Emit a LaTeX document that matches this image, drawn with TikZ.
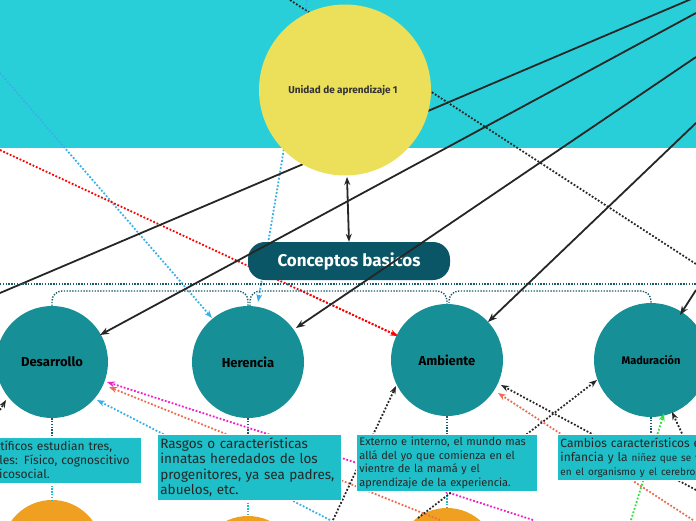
\documentclass[tikz,border=0pt]{standalone}
\usepackage{fontspec}
\setmainfont{Fira Sans}
\usetikzlibrary{arrows.meta,shapes.geometric}
\definecolor{band}{HTML}{29CFD8}
\definecolor{yel}{HTML}{ECE05A}
\definecolor{cb}{HTML}{0A5566}
\definecolor{circ}{HTML}{168F96}
\definecolor{boxc}{HTML}{1EBFC8}
\definecolor{org}{HTML}{F0A020}
\definecolor{lb}{HTML}{3AB0E8}
\definecolor{pk}{HTML}{F020C8}
\definecolor{sal}{HTML}{F06A50}
\definecolor{gr}{HTML}{30E040}
\definecolor{dt}{HTML}{1A5E6E}
\tikzset{
  conc/.style={circle,fill=circ,minimum size=112pt,inner sep=0pt,font=\bfseries\fontsize{13}{15}\selectfont,text=black},
  orng/.style={circle,fill=org,minimum size=100pt,inner sep=0pt},
  tbox/.style={fill=boxc,draw=white,line width=0.8pt,anchor=north west,align=left,inner sep=3pt,text=black!85},
  sol/.style={line width=1.8pt,black!85,-{Stealth[length=9pt]}},
  dot/.style={line width=1.8pt,dash pattern=on 1.8pt off 1.8pt},
  arr/.style={-{Stealth[length=8pt,open]}},
  br/.style={line width=1.4pt,dash pattern=on 1.4pt off 1.4pt,dt,rounded corners=10pt}
}
\begin{document}
\begin{tikzpicture}[x=1pt,y=-1pt]
\useasboundingbox (0,0) rectangle (696,520);
\fill[band] (0,0) rectangle (696,148);
% orange circles
\node[orng] (o1) at (52,550) {};
\node[orng] (o2) at (248,566) {};
\node[orng] (o3) at (447,558) {};
% background lines
\draw[dot,lb,arr] (0,73) -- (212,318);
\draw[dot,red] (0,150) -- (398,336);
\draw[dot,red,arr] (300,290) -- (398,336);
\draw[dot,black!85] (290,0) -- (696,264);
\draw[dot,lb,arr] (307,0) .. controls (284,150) .. (258,302);
\draw[line width=1.8pt,black!85] (0,293) -- (696,-3);
\node[fill=yel,ellipse,minimum width=172pt,minimum height=171pt,inner sep=0pt] (u) at (345,90) {};
\node[font=\bfseries\fontsize{10}{12}\selectfont,text=black!80] at (343,91) {Unidad de aprendizaje 1};
% brackets
\draw[br] (0,284) -- (696,284);
\draw[br] (52,306) -- (52,291) -- (248,291) -- (248,306);
\draw[br] (250,306) -- (250,291) -- (447,291) -- (447,306);
\draw[br] (449,306) -- (449,291) -- (651,291) -- (651,306);
\node[fill=cb,rounded corners=17pt,minimum width=202pt,minimum height=38pt,text=white,font=\bfseries\fontsize{17}{19}\selectfont] (c) at (349,261) {Conceptos basicos};
\draw[line width=1.8pt,black!85,{Stealth[length=8pt]}-{Stealth[length=8pt]}] (347,177) -- (c.north);
% circles
\node[conc] (d) at (52,362) {Desarrollo};
\node[conc] (h) at (248,362) {Herencia};
\node[conc] (a) at (447,360) {Ambiente};
\node[conc,minimum size=114pt,font=\bfseries\fontsize{11}{13}\selectfont] (m) at (651,360) {Maduración};
% vertical links
\draw[br] (d.south) -- (52,440);
\draw[br] (h.south) -- (248,436);
\draw[br] (a.south) -- (447,436);
\draw[br] (m.south) -- (651,436);
\draw[br,boxc] (52,480) -- (o1.north);
\draw[br,boxc] (248,497) -- (o2.north);
\draw[br,boxc] (447,490) -- (o3.north);
% solid converging lines
\coordinate (s2) at (696,13); \coordinate (s3) at (696,57);
\coordinate (s4) at (696,123); \coordinate (s5) at (696,290);
\draw[sol] (s2) -- (100,335);
\draw[sol] (s3) -- (296,328);
\draw[sol] (s4) -- (488,322);
\draw[sol] (s5) -- (680,315);
% lower dotted lines
\draw[dot,pk,arr] (533,520) -- (107,382);
\draw[dot,sal,arr] (440,520) -- (109,387);
\draw[dot,lb,arr] (330,520) -- (97,400);
\draw[dot,sal,arr] (693,520) -- (498,393);
\draw[dot,black!85,arr] (333,520) -- (396,386);
\draw[dot,black!85,arr] (418,518) -- (597,380);
\draw[dot,black!85,arr] (696,490) -- (501,385);
\draw[dot,black!85,arr] (685,440) -- (672,412);
\draw[dot,gr,arr] (631,520) -- (664,413);
\draw[dot,black!85,arr] (0,410) -- (6,400);
% text boxes
\node[tbox,anchor=north east,font=\fontsize{12}{14}\selectfont,text width=162pt] (b1) at (142,437) {Científicos estudian tres,\\ niveles: Físico, cognoscitivo\\ y psicosocial.};
\node[tbox,font=\fontsize{13.5}{15.5}\selectfont,text width=178pt] (b2) at (157,434) {Rasgos o características\\ innatas heredados de los\\ progenitores, ya sea padres,\\ abuelos, etc.};
\node[tbox,font=\fontsize{11}{13.5}\selectfont,text width=175pt] (b3) at (356,434) {Externo e interno, el mundo mas\\ allá del yo que comienza en el\\ vientre de la mamá y el\\ aprendizaje de la experiencia.};
\node[tbox,font=\fontsize{12}{14}\selectfont,text width=200pt] (b4) at (557,434) {Cambios característicos en la\\ infancia y la {\fontsize{10}{14}\selectfont niñez que se van dando}\\ {\fontsize{10}{14}\selectfont en el organismo y el cerebro.}};
\end{tikzpicture}
\end{document}
